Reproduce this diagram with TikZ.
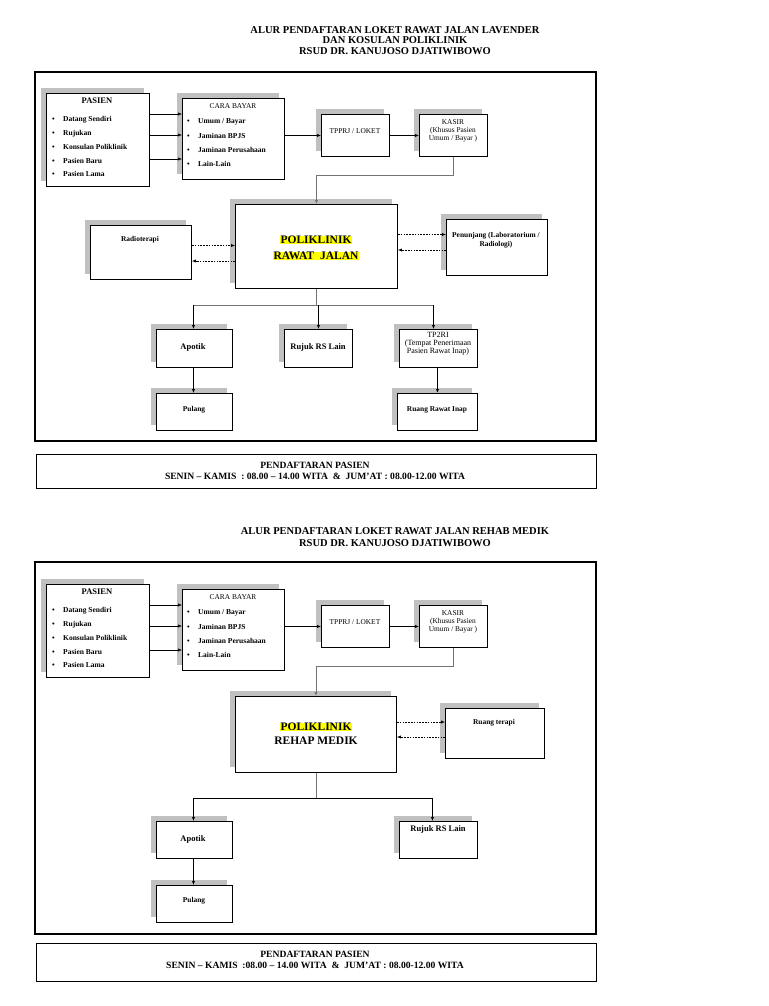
\documentclass[tikz,border=0pt]{standalone}
\usepackage{fontspec}
\setmainfont{Liberation Serif}
\usetikzlibrary{shadows,arrows.meta}
\definecolor{shd}{RGB}{192,192,192}
\definecolor{hl}{RGB}{255,255,0}
\tikzset{
  bx/.style={draw, line width=0.9pt, fill=white, inner sep=0pt, anchor=north west,
    general shadow={fill=shd, shadow xshift=-5pt, shadow yshift=5pt}},
  arr/.style={-{Latex[length=4pt,width=3.2pt]}, line width=0.6pt},
  darr/.style={arr, dash pattern=on 1.6pt off 1.2pt},
  gline/.style={draw=black!55, line width=0.8pt},
  itm/.style={anchor=west, inner sep=0pt, font=\fontsize{7.5}{9}\selectfont\bfseries},
  sm/.style={inner sep=0pt, font=\fontsize{7.4}{8.2}\selectfont, align=center},
  smb/.style={inner sep=0pt, font=\fontsize{7.4}{8.4}\selectfont\bfseries, align=center},
  hd/.style={inner sep=0pt, font=\fontsize{8.5}{10}\selectfont\bfseries},
  inf/.style={inner sep=0pt, font=\fontsize{9.6}{11}\selectfont\bfseries},
  ttl/.style={inner sep=0pt, font=\fontsize{10.5}{12}\selectfont\bfseries},
  big/.style={inner sep=0.6pt, font=\fontsize{11.5}{13}\selectfont\bfseries},
  frm/.style={line width=1.4pt},
}
\newcommand{\mybul}[1]{\makebox[11pt][l]{\textbullet}#1}
\newcommand{\mytop}[1]{%
  \node[bx, minimum width=103pt, minimum height=93pt] (pasien#1) at (46,93) {};
  \node[bx, minimum width=102pt, minimum height=81pt] (cara#1) at (182,98) {};
  \node[bx, minimum width=68pt, minimum height=42pt] (tpprj#1) at (321,114) {};
  \node[bx, minimum width=68pt, minimum height=42pt] (kasir#1) at (419,114) {};
  \node[hd] (pasienT#1) at (97,101) {PASIEN};
  \node[itm] (pi1#1) at (52,120) {\mybul{Datang Sendiri}};
  \node[itm] (pi2#1) at (52,133.5) {\mybul{Rujukan}};
  \node[itm] (pi3#1) at (52,147) {\mybul{Konsulan Poliklinik}};
  \node[itm] (pi4#1) at (52,160.5) {\mybul{Pasien Baru}};
  \node[itm] (pi5#1) at (52,174) {\mybul{Pasien Lama}};
  \node[sm] (caraT#1) at (233,106) {CARA BAYAR};
  \node[itm] (ci1#1) at (187,122) {\mybul{Umum / Bayar}};
  \node[itm] (ci2#1) at (187,136) {\mybul{Jaminan BPJS}};
  \node[itm] (ci3#1) at (187,150) {\mybul{Jaminan Perusahaan}};
  \node[itm] (ci4#1) at (187,164) {\mybul{Lain-Lain}};
  \node[sm] (tpprjT#1) at (355,131) {TPPRJ / LOKET};
  \node[sm, anchor=north] (kasirT#1) at (453,119) {KASIR\\(Khusus Pasien\\Umum / Bayar )};
  \coordinate (pa1#1) at ([yshift=-21pt]pasien#1.north east);
  \coordinate (pa2#1) at ([yshift=-42pt]pasien#1.north east);
  \coordinate (pa3#1) at ([yshift=-66pt]pasien#1.north east);
  \draw[arr] (pa1#1) -- (pa1#1 -| cara#1.west);
  \draw[arr] (pa2#1) -- (pa2#1 -| cara#1.west);
  \draw[arr] (pa3#1) -- (pa3#1 -| cara#1.west);
  \draw[arr] (tpprj#1.west -| cara#1.east) -- (tpprj#1.west);
  \draw[arr] (tpprj#1.east) -- (kasir#1.west);
}
\begin{document}
\begin{tikzpicture}[x=1pt,y=-1pt]
\useasboundingbox[fill=white] (0,0) rectangle (768,1006);
% ---------- first chart ----------
\node[ttl] (t1) at (395,30) {ALUR PENDAFTARAN LOKET RAWAT JALAN LAVENDER};
\node[ttl] (t2) at (395,40.5) {DAN KOSULAN POLIKLINIK};
\node[ttl] (t3) at (395,51) {RSUD DR.\ KANUJOSO DJATIWIBOWO};
\draw[frm] (35,72) rectangle (596,441);
\mytop{a}
\node[bx, minimum width=162pt, minimum height=84pt] (poli) at (235,204) {};
\node[bx, minimum width=101pt, minimum height=54pt] (radio) at (90,225) {};
\node[bx, minimum width=101pt, minimum height=56pt] (penun) at (446,219) {};
\node[bx, minimum width=76pt, minimum height=38pt] (apotik) at (156,329) {};
\node[bx, minimum width=68pt, minimum height=38pt] (rujuk) at (284,329) {};
\node[bx, minimum width=78pt, minimum height=38pt] (tp2ri) at (399,329) {};
\node[bx, minimum width=76pt, minimum height=37pt] (pulang) at (156,393) {};
\node[bx, minimum width=80pt, minimum height=37pt] (ruang) at (397,393) {};
\node[big, fill=hl] (poliT1) at (316,240) {POLIKLINIK};
\node[big, fill=hl] (poliT2) at (316,256) {RAWAT\ \ JALAN};
\node[smb] (radioT) at (140,240) {Radioterapi};
\node[smb, anchor=north] (penunT) at (496,232.5) {Penunjang (Laboratorium /\\Radiologi)};
\node[hd] (apotikT) at (193,347) {Apotik};
\node[hd] (rujukT) at (318,347) {Rujuk RS Lain};
\node[sm, anchor=north, font=\fontsize{8}{8}\selectfont] (tp2riT) at (438,331.5) {TP2RI\\(Tempat Penerimaan\\Pasien Rawat Inap)};
\node[smb] (pulangT) at (194,410) {Pulang};
\node[smb] (ruangT) at (437,410) {Ruang Rawat Inap};
% connectors
\draw[gline, arr] (kasira.south) -- ++(0,18) -| (poli.north);
\coordinate (rd1) at ([yshift=-20.5pt]radio.north east);
\coordinate (rd2) at ([yshift=-36pt]radio.north east);
\draw[darr] (rd1) -- (rd1 -| poli.west);
\draw[darr] (rd2 -| poli.west) -- (rd2);
\coordinate (pn1) at ([yshift=-15.5pt]penun.north west);
\coordinate (pn2) at ([yshift=-31pt]penun.north west);
\draw[darr] (pn1 -| poli.east) -- (pn1);
\draw[darr] (pn2) -- (pn2 -| poli.east);
\coordinate (jn) at ([yshift=-16pt]poli.south);
\coordinate (ja) at ([xshift=-1pt]apotik.north);
\coordinate (jt) at ([xshift=-5pt]tp2ri.north);
\draw[gline] (poli.south) -- (jn);
\draw[gline] (jn -| ja) -- (jn -| jt);
\draw[arr] (jn -| ja) -- (ja);
\draw[arr] (jn -| rujuk.north) -- (rujuk.north);
\draw[arr] (jn -| jt) -- (jt);
\draw[arr] ([xshift=-1pt]apotik.south) -- ([xshift=-1pt]pulang.north);
\draw[arr, line width=1pt] ([xshift=-1pt]tp2ri.south) -- ([xshift=-1pt]tp2ri.south |- ruang.north);
% info box
\node[draw, line width=0.8pt, anchor=north west, minimum width=560.5pt, minimum height=34pt, inner sep=0pt] (info1) at (35.5,454) {};
\node[inf] (info1a) at (315,465) {PENDAFTARAN PASIEN};
\node[inf] (info1b) at (315,476) {SENIN -- KAMIS\ \ : 08.00 -- 14.00 WITA\ \ \&\ \ JUM'AT : 08.00-12.00 WITA};
% ---------- second chart ----------
\node[ttl] (t4) at (395,531) {ALUR PENDAFTARAN LOKET RAWAT JALAN REHAB MEDIK};
\node[ttl] (t5) at (395,543) {RSUD DR.\ KANUJOSO DJATIWIBOWO};
\draw[frm] (35,562) rectangle (596,934);
\begin{scope}[shift={(0,491)}]
\mytop{b}
\end{scope}
\node[bx, minimum width=161pt, minimum height=76pt] (poli2) at (235,696) {};
\node[bx, minimum width=99pt, minimum height=50pt] (terapi) at (445,708) {};
\node[bx, minimum width=76pt, minimum height=37pt] (apotik2) at (156,821) {};
\node[bx, minimum width=78pt, minimum height=37pt] (rujuk2) at (399,821) {};
\node[bx, minimum width=76pt, minimum height=37pt] (pulang2) at (156,885) {};
\node[big, fill=hl] (poli2T1) at (316,727) {POLIKLINIK};
\node[big] (poli2T2) at (316,741) {REHAP MEDIK};
\node[smb] (terapiT) at (494,723) {Ruang terapi};
\node[hd] (apotik2T) at (193,839) {Apotik};
\node[hd] (rujuk2T) at (438,829) {Rujuk RS Lain};
\node[smb] (pulang2T) at (194,901) {Pulang};
\draw[gline, arr] (kasirb.south) -- ++(0,18) -| (poli2.north);
\coordinate (tr1) at ([yshift=-14pt]terapi.north west);
\coordinate (tr2) at ([yshift=-29pt]terapi.north west);
\draw[darr] (tr1 -| poli2.east) -- (tr1);
\draw[darr] (tr2) -- (tr2 -| poli2.east);
\coordinate (jn2) at ([yshift=-25pt]poli2.south);
\coordinate (ja2) at ([xshift=-1pt]apotik2.north);
\coordinate (jr2) at ([xshift=-6pt]rujuk2.north);
\draw[gline] (poli2.south) -- (jn2);
\draw[line width=0.8pt] (jn2 -| ja2) -- (jn2 -| jr2);
\draw[arr] (jn2 -| ja2) -- (ja2);
\draw[arr] (jn2 -| jr2) -- (jr2);
\draw[arr] ([xshift=-1pt]apotik2.south) -- ([xshift=-1pt]pulang2.north);
\node[draw, line width=0.8pt, anchor=north west, minimum width=560.5pt, minimum height=38pt, inner sep=0pt] (info2) at (35.5,943) {};
\node[inf] (info2a) at (315,954) {PENDAFTARAN PASIEN};
\node[inf] (info2b) at (315,965) {SENIN -- KAMIS\ \ :08.00 -- 14.00 WITA\ \ \&\ \ JUM'AT : 08.00-12.00 WITA};
\end{tikzpicture}
\end{document}
